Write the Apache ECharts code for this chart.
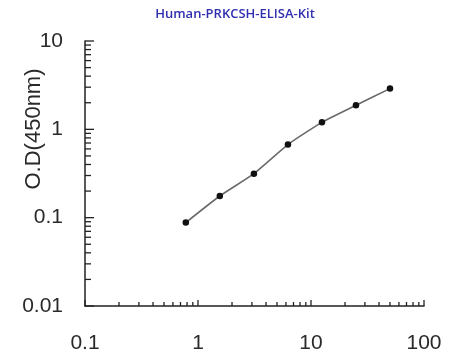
<!DOCTYPE html>
<html>
<head>
<meta charset="utf-8">
<script src="https://cdn.jsdelivr.net/npm/echarts@6/dist/echarts.min.js"></script>
<style>html,body{margin:0;padding:0;background:#fff;}#c{width:457px;height:357px;}</style>
</head>
<body>
<div id="c"></div>
<script>
const titleText = 'Human-PRKCSH-ELISA-Kit';
const yName = 'O.D(450nm)';
const concentrations = [0.78, 1.56, 3.125, 6.25, 12.5, 25, 50];
const odValues = [0.088, 0.176, 0.315, 0.672, 1.20, 1.87, 2.89];
const xMajorTicks = [0.1, 1, 10, 100];
const yMajorTicks = [0.01, 0.1, 1, 10];
const xMinorTicks = [0.2,0.3,0.4,0.5,0.6,0.7,0.8,0.9, 2,3,4,5,6,7,8,9, 20,30,40,50,60,70,80,90];
const yMinorTicks = [0.02,0.03,0.04,0.05,0.06,0.07,0.08,0.09, 0.2,0.3,0.4,0.5,0.6,0.7,0.8,0.9, 2,3,4,5,6,7,8,9];
const xRange = [0.1, 100];
const yRange = [0.01, 10];

const chart = echarts.init(document.getElementById('c'));
const axisColor = '#222';
const labelStyle = { color: '#2a2a2a', fontSize: 21, fontFamily: 'Liberation Sans, Arial, sans-serif' };

function tickSeries(values, majors, dir) {
  return {
    type: 'custom',
    silent: true,
    clip: false,
    z: 3,
    data: values.concat(majors).map(v => dir === 'x' ? [v, yRange[0]] : [xRange[0], v]),
    renderItem: function (params, api) {
      const p = api.coord([api.value(0), api.value(1)]);
      const v = dir === 'x' ? api.value(0) : api.value(1);
      const major = majors.indexOf(v) >= 0;
      let len;
      if (dir === 'x') len = major ? 6 : 4;
      else len = major ? 9 : 6;
      const shape = dir === 'x'
        ? { x1: p[0], y1: p[1], x2: p[0], y2: p[1] - len }
        : { x1: p[0], y1: p[1], x2: p[0] + len, y2: p[1] };
      return { type: 'line', shape: shape, style: { stroke: axisColor, lineWidth: 1.3 } };
    }
  };
}

chart.setOption({
  backgroundColor: '#fff',
  animation: false,
  title: {
    text: titleText,
    left: 230, top: 3, textAlign: 'center',
    textStyle: { color: '#2f2fb0', fontSize: 13, fontWeight: 600, fontFamily: 'Open Sans, sans-serif' }
  },
  grid: { left: 85, right: 33, top: 41, bottom: 51 },
  xAxis: {
    type: 'log', logBase: 10, min: xRange[0], max: xRange[1],
    axisLine: { show: true, lineStyle: { color: axisColor, width: 1.5 } },
    axisTick: { show: false },
    splitLine: { show: false },
    axisLabel: Object.assign({ margin: 27, formatter: v => String(v) }, labelStyle)
  },
  yAxis: {
    type: 'log', logBase: 10, min: yRange[0], max: yRange[1],
    axisLine: { show: true, lineStyle: { color: axisColor, width: 1.5 } },
    axisTick: { show: false },
    splitLine: { show: false },
    axisLabel: Object.assign({ margin: 22, formatter: v => String(v) }, labelStyle)
  },
  graphic: [{
    type: 'text',
    x: 34, y: 129,
    rotation: Math.PI / 2,
    style: {
      text: yName,
      fill: '#2a2a2a',
      fontSize: 22,
      fontFamily: 'Liberation Sans, Arial, sans-serif',
      textAlign: 'center',
      textVerticalAlign: 'middle'
    }
  }],
  series: [
    tickSeries(xMinorTicks, xMajorTicks, 'x'),
    tickSeries(yMinorTicks, yMajorTicks, 'y'),
    {
      type: 'line',
      data: concentrations.map((c, i) => [c, odValues[i]]),
      smooth: 0.2,
      symbol: 'circle',
      symbolSize: 6.5,
      lineStyle: { color: '#6a6a6a', width: 1.6 },
      itemStyle: { color: '#111' },
      z: 5
    }
  ]
});
</script>
</body>
</html>
